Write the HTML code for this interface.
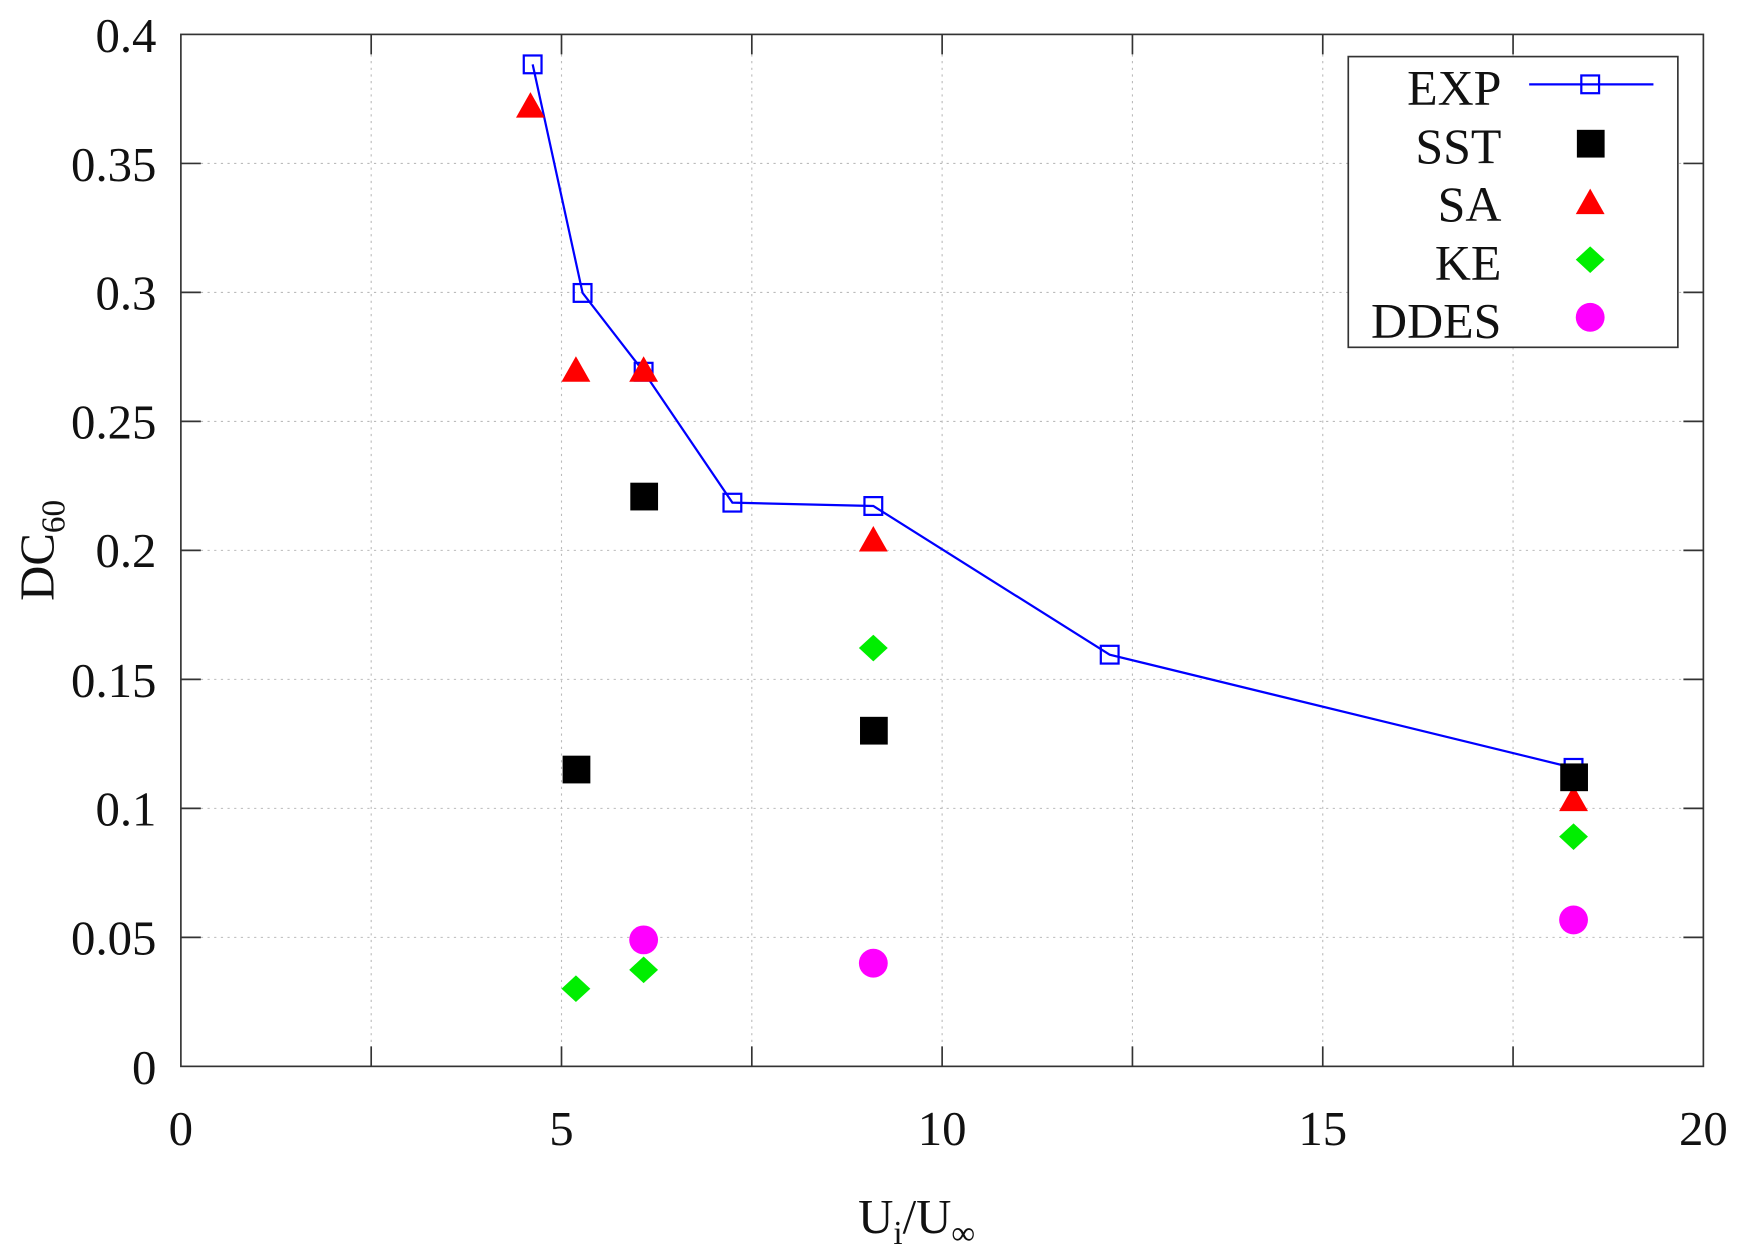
<!DOCTYPE html>
<html><head><style>html,body{margin:0;padding:0;background:#fff}svg{display:block}</style></head><body>
<svg width="1740" height="1259" viewBox="0 0 1568 1134.6" preserveAspectRatio="none" xmlns="http://www.w3.org/2000/svg" font-family="Liberation Serif, serif">
<g stroke="#bbb" stroke-width="1" stroke-dasharray="2,4">
<line x1="334.5" y1="31" x2="334.5" y2="961"/><line x1="506" y1="31" x2="506" y2="961"/><line x1="677.5" y1="31" x2="677.5" y2="961"/><line x1="849" y1="31" x2="849" y2="961"/><line x1="1020.5" y1="31" x2="1020.5" y2="961"/><line x1="1192" y1="31" x2="1192" y2="961"/><line x1="1363.5" y1="31" x2="1363.5" y2="961"/>
<line x1="163" y1="147.25" x2="1535" y2="147.25"/><line x1="163" y1="263.5" x2="1535" y2="263.5"/><line x1="163" y1="379.75" x2="1535" y2="379.75"/><line x1="163" y1="496" x2="1535" y2="496"/><line x1="163" y1="612.25" x2="1535" y2="612.25"/><line x1="163" y1="728.5" x2="1535" y2="728.5"/><line x1="163" y1="844.75" x2="1535" y2="844.75"/>
</g>
<g stroke="#333" stroke-width="1.5">
<rect x="163" y="31" width="1372" height="930" fill="none"/>
<path d="M163 147.25h18M163 263.5h18M163 379.75h18M163 496h18M163 612.25h18M163 728.5h18M163 844.75h18M1535 147.25h-18M1535 263.5h-18M1535 379.75h-18M1535 496h-18M1535 612.25h-18M1535 728.5h-18M1535 844.75h-18M334.5 961v-18M506 961v-18M677.5 961v-18M849 961v-18M1020.5 961v-18M1192 961v-18M1363.5 961v-18M334.5 31v18M506 31v18M677.5 31v18M849 31v18M1020.5 31v18M1192 31v18M1363.5 31v18"/>
</g>
<g font-size="44" fill="#111" text-anchor="end">
<text x="141" y="47">0.4</text><text x="141" y="163">0.35</text><text x="141" y="279">0.3</text><text x="141" y="395">0.25</text><text x="141" y="511">0.2</text><text x="141" y="628">0.15</text><text x="141" y="744">0.1</text><text x="141" y="860">0.05</text><text x="141" y="977">0</text>
</g>
<g font-size="44" fill="#111" text-anchor="middle">
<text x="163" y="1032">0</text><text x="506" y="1032">5</text><text x="849" y="1032">10</text><text x="1192" y="1032">15</text><text x="1535" y="1032">20</text>
<text x="826" y="1111">U<tspan font-size="30" dy="10">i</tspan><tspan dy="-10">/U</tspan><tspan font-size="30" dy="10">∞</tspan></text>
</g>
<text transform="translate(48,496) rotate(-90)" font-size="44" text-anchor="middle" fill="#111">DC<tspan font-size="30" dy="10">60</tspan></text>
<polyline points="480,58 525,264 580,335 660,453 787,456 1000,590 1418,692" fill="none" stroke="#0000ff" stroke-width="2"/>
<g fill="none" stroke="#0000ff" stroke-width="2">
<rect x="472" y="50" width="16" height="16"/><rect x="517" y="256" width="16" height="16"/><rect x="572" y="327" width="16" height="16"/><rect x="652" y="445" width="16" height="16"/><rect x="779" y="448" width="16" height="16"/><rect x="992" y="582" width="16" height="16"/><rect x="1410" y="684" width="16" height="16"/>
</g>
<g fill="#f00">
<polygon points="478,83 465,106 491,106"/><polygon points="519,321 506,344 532,344"/><polygon points="580,321 567,344 593,344"/><polygon points="787,474 774,497 800,497"/><polygon points="1418,708 1405,731 1431,731"/>
</g>
<g fill="#000">
<rect x="568" y="435" width="25" height="25"/><rect x="507" y="681" width="25" height="25"/><rect x="775" y="646" width="25" height="25"/><rect x="1406" y="688" width="25" height="25"/>
</g>
<g fill="#00ee00">
<polygon points="787,572 800,584 787,596 774,584"/><polygon points="519,879 532,891 519,903 506,891"/><polygon points="580,862 593,874 580,886 567,874"/><polygon points="1418,742 1431,754 1418,766 1405,754"/>
</g>
<g fill="#ff00ff">
<circle cx="580" cy="847" r="13"/><circle cx="787" cy="868" r="13"/><circle cx="1418" cy="829" r="13"/>
</g>
<rect x="1215" y="51" width="297" height="262" fill="#fff" stroke="#333" stroke-width="1.5"/>
<g font-size="45" fill="#111" text-anchor="end">
<text x="1353" y="94">EXP</text><text x="1353" y="147">SST</text><text x="1353" y="199">SA</text><text x="1353" y="252">KE</text><text x="1353" y="304">DDES</text>
</g>
<line x1="1378" y1="76" x2="1490" y2="76" stroke="#0000ff" stroke-width="2"/>
<rect x="1425" y="68" width="16" height="16" fill="none" stroke="#0000ff" stroke-width="2"/>
<rect x="1421" y="117" width="25" height="25" fill="#000"/>
<polygon points="1433,170 1420,193 1446,193" fill="#f00"/>
<polygon points="1433,222 1446,234 1433,246 1420,234" fill="#00ee00"/>
<circle cx="1433" cy="286" r="13" fill="#ff00ff"/>
</svg>
</body></html>
